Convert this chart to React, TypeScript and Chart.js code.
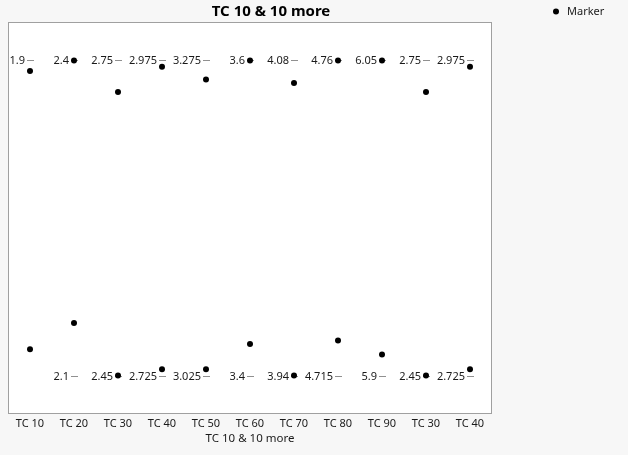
import React, { useEffect, useRef } from 'react';
import { Chart, registerables } from 'chart.js';

Chart.register(...registerables);

const categories = ['TC 10', 'TC 20', 'TC 30', 'TC 40', 'TC 50', 'TC 60', 'TC 70', 'TC 80', 'TC 90', 'TC 30', 'TC 40'];
const upperValues = [1.89, 2.4, 2.72, 2.97, 3.26, 3.6, 4.07, 4.76, 6.05, 2.72, 2.97];
const lowerValues = [1.625, 2.15, 2.45, 2.73, 3.03, 3.42, 3.94, 4.72, 5.91, 2.45, 2.73];
const tickHigh = [1.9, 2.4, 2.75, 2.975, 3.275, 3.6, 4.08, 4.76, 6.05, 2.75, 2.975];
const tickLow = [1.6, 2.1, 2.45, 2.725, 3.025, 3.4, 3.94, 4.715, 5.9, 2.45, 2.725];
const tickLowShown = [false, true, true, true, true, true, true, true, true, true, true];

const chartTitle = 'TC 10 & 10 more';
const xTitle = 'TC 10 & 10 more';
const legendLabel = 'Marker';

const FONT = "'Noto Sans', sans-serif";
const TEXT = '#1a1a1a';
const PAD_FRAC = 0.1222;

export default function App() {
  const ref = useRef<HTMLCanvasElement | null>(null);

  useEffect(() => {
    document.body.style.margin = '0';
    const canvas = ref.current;
    if (!canvas) return;

    const scales: any = {
      x: {
        type: 'category',
        labels: categories,
        offset: true,
        grid: { display: false, drawTicks: false },
        border: { display: false },
        ticks: { color: TEXT, font: { family: FONT, size: 11 }, padding: 3, autoSkip: false, maxRotation: 0 },
        title: { display: true, text: xTitle, color: TEXT, font: { family: FONT, size: 11.5 }, padding: { top: 0, bottom: 9 } },
        afterFit: (s: any) => { s.height = 41; },
      },
    };
    categories.forEach((_, i) => {
      const span = tickHigh[i] - tickLow[i];
      scales['y' + i] = {
        type: 'linear',
        display: false,
        min: tickLow[i] - span * PAD_FRAC,
        max: tickHigh[i] + span * PAD_FRAC,
      };
    });

    const datasets = categories.map((c, i) => ({
      label: legendLabel,
      xAxisID: 'x',
      yAxisID: 'y' + i,
      parsing: false,
      data: [
        { x: i, y: upperValues[i] },
        { x: i, y: lowerValues[i] },
      ],
      showLine: false,
      pointRadius: 3,
      pointHoverRadius: 3,
      pointBackgroundColor: '#000',
      pointBorderColor: '#000',
      pointBorderWidth: 0,
    }));

    const framePlugin = {
      id: 'frame',
      beforeDraw(chart: any) {
        const { ctx, chartArea: a } = chart;
        ctx.save();
        ctx.fillStyle = '#f7f7f7';
        ctx.fillRect(0, 0, chart.width, chart.height);
        ctx.fillStyle = '#ffffff';
        ctx.fillRect(a.left, a.top, a.right - a.left, a.bottom - a.top);
        ctx.strokeStyle = '#a0a0a0';
        ctx.lineWidth = 1;
        ctx.strokeRect(a.left + 0.5, a.top + 0.5, a.right - a.left - 1, a.bottom - a.top - 1);
        ctx.restore();
      },
      beforeDatasetsDraw(chart: any) {
        const { ctx } = chart;
        const xs = chart.scales.x;
        ctx.save();
        ctx.font = `11px ${FONT}`;
        ctx.fillStyle = TEXT;
        ctx.textAlign = 'right';
        ctx.textBaseline = 'middle';
        ctx.strokeStyle = '#909090';
        ctx.lineWidth = 1;
        categories.forEach((_, i) => {
          const x = Math.round(xs.getPixelForValue(i));
          const ys = chart.scales['y' + i];
          const pairs: [number, boolean][] = [[tickHigh[i], true], [tickLow[i], tickLowShown[i]]];
          pairs.forEach(([v, show]) => {
            if (!show) return;
            const y = Math.round(ys.getPixelForValue(v)) + 0.5;
            ctx.beginPath();
            ctx.moveTo(x - 3, y);
            ctx.lineTo(x + 4, y);
            ctx.stroke();
            ctx.fillText(String(v), x - 5, y);
          });
        });
        ctx.restore();
      },
      afterDraw(chart: any) {
        const { ctx } = chart;
        ctx.save();
        ctx.fillStyle = '#000';
        ctx.font = `bold 15px ${FONT}`;
        ctx.textAlign = 'center';
        ctx.textBaseline = 'middle';
        ctx.fillText(chartTitle, 271, 12);
        ctx.beginPath();
        ctx.arc(556, 11.5, 3, 0, Math.PI * 2);
        ctx.fill();
        ctx.fillStyle = TEXT;
        ctx.font = `11px ${FONT}`;
        ctx.textAlign = 'left';
        ctx.fillText(legendLabel, 567, 12);
        ctx.restore();
      },
    };

    const chart = new Chart(canvas, {
      type: 'scatter',
      data: { datasets } as any,
      options: {
        responsive: false,
        animation: false,
        layout: { padding: { left: 8, right: 136, top: 22, bottom: 0 } },
        scales,
        plugins: {
          legend: { display: false },
          title: { display: false },
          tooltip: { enabled: false },
        },
      } as any,
      plugins: [framePlugin],
    });
    return () => chart.destroy();
  }, []);

  return (
    <div style={{ position: 'absolute', left: 0, top: 0, width: 628, height: 455 }}>
      <canvas ref={ref} width={628} height={455} style={{ width: 628, height: 455 }} />
    </div>
  );
}
